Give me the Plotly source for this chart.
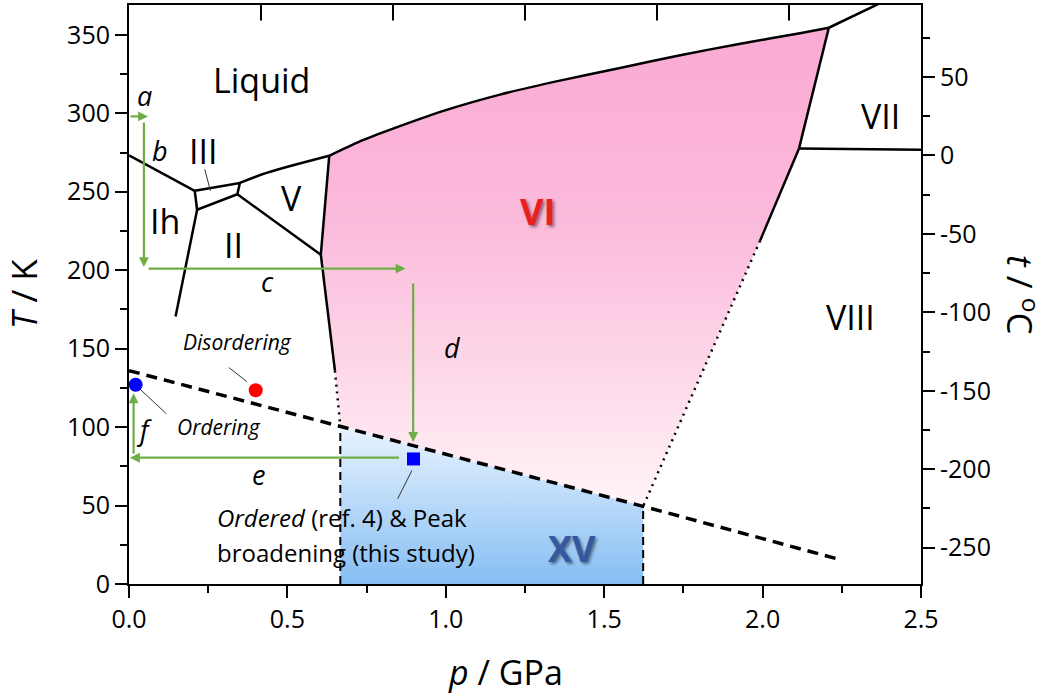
import plotly.graph_objects as go

# ---------------- data (p in GPa, T in K) ----------------
# phase boundaries
ih_liq_p = [0.0, 0.2075];            ih_liq_T = [273.2, 250.6]
iii_box_p = [0.2075, 0.350, 0.342, 0.215, 0.2075]
iii_box_T = [250.6, 255.6, 248.4, 238.5, 250.6]
ih_ii_p = [0.215, 0.147];            ih_ii_T = [238.5, 170.5]
liq_v_p = [0.350, 0.434, 0.632];     liq_v_T = [255.6, 262.0, 272.9]
ii_v_p = [0.342, 0.6055];            ii_v_T = [248.4, 209.9]
v_vi_p = [0.632, 0.6055];            v_vi_T = [272.9, 209.9]
ii_vi_p = [0.6055, 0.650];           ii_vi_T = [209.9, 136.0]
ii_vi_dot_p = [0.650, 0.667];        ii_vi_dot_T = [136.0, 100.3]
vi_liq_p = [0.632, 0.74, 0.855, 1.0, 1.171, 1.36, 1.55, 1.74, 1.93, 2.118, 2.209]
vi_liq_T = [272.9, 283.0, 291.8, 302.0, 311.9, 320.8, 328.9, 337.0, 344.3, 351.0, 354.5]
vii_liq_p = [2.209, 2.40];           vii_liq_T = [354.5, 373.0]
vi_vii_p = [2.209, 2.115];           vi_vii_T = [354.5, 277.6]
vii_viii_p = [2.115, 2.5];           vii_viii_T = [277.6, 276.8]
vi_viii_p = [2.115, 1.992];          vi_viii_T = [277.6, 218.8]
vi_viii_dot_p = [1.992, 1.623];      vi_viii_dot_T = [218.8, 49.5]
# ordering (dashed) line
order_p = [0.0, 0.667, 1.623, 2.24]
order_T = [136.0, 100.3, 49.5, 15.8]
# ice XV region
xv_p = [0.667, 0.667, 1.623, 1.623]
xv_T = [0.0, 100.3, 49.5, 0.0]
# ice VI region outline
vi_p = vi_liq_p + [2.115, 1.992, 1.623, 0.667, 0.650, 0.6055, 0.632]
vi_T = vi_liq_T + [277.6, 218.8, 49.5, 100.3, 136.0, 209.9, 272.9]

# measured points
blue_circle_p = [0.021];  blue_circle_T = [127.0]
red_circle_p = [0.400];   red_circle_T = [123.5]
blue_square_p = [0.898];  blue_square_T = [79.7]

# path arrows a-f: start -> end
arrow_names = ["a", "b", "c", "d", "e", "f"]
arrow_p0 = [0.0, 0.047, 0.057, 0.897, 0.857, 0.0145]
arrow_T0 = [298.0, 295.0, 201.0, 192.5, 80.5, 82.0]
arrow_p1 = [0.060, 0.047, 0.873, 0.897, 0.003, 0.0145]
arrow_T1 = [298.0, 202.0, 201.0, 90.5, 80.5, 121.5]
letter_p = [0.050, 0.097, 0.436, 1.021, 0.408, 0.047]
letter_T = [311.5, 276.5, 192.5, 150.5, 70.0, 98.5]

# phase labels
phase_names = ["Liquid", "III", "Ih", "II", "V", "VII", "VIII"]
phase_p = [0.418, 0.234, 0.113, 0.3295, 0.513, 2.371, 2.276]
phase_T = [321.0, 275.8, 231.3, 216.0, 246.2, 298.0, 170.0]
vi_label = ("VI", 1.291, 237.3)
xv_label = ("XV", 1.398, 22.8)
note_lines = ["<i>Ordered</i> (ref. 4) & Peak", "broadening (this study)"]
note_p = 0.2715
note_T = [42.4, 20.3]

# pointer lines (label leaders)
ptr_iii = ([0.239, 0.257], [264.3, 250.6])
ptr_dis = ([0.315, 0.372], [138.0, 129.0])
ptr_ord = ([0.033, 0.118], [124.5, 108.5])
ptr_odd = ([0.893, 0.848], [72.3, 54.3])

# axes
x_ticks = [0.0, 0.5, 1.0, 1.5, 2.0, 2.5]
x_ticktext = ["0.0", "0.5", "1.0", "1.5", "2.0", "2.5"]
top_ticks = [i * 2.5 / 6 for i in range(1, 6)]
y_ticks = [0, 50, 100, 150, 200, 250, 300, 350]
c_ticks = [-250, -200, -150, -100, -50, 0, 50]
c_ticktext = ["-250", "-200", "-150", "-100", "-50", "0", "50"]
T_MAX = 369.0
KELVIN = 273.15

# ---------------- figure ----------------
FONT = "Open Sans"
fig = go.Figure()

# VI region fill
fig.add_trace(go.Scatter(
    x=vi_p, y=vi_T, mode="lines", fill="toself", line=dict(width=0),
    fillgradient=dict(type="vertical", colorscale=[
        [0.0, "#FFF4F8"], [0.3, "#FDD6E8"], [0.6, "#FBBADB"], [1.0, "#FAAAD3"]]),
    hoverinfo="skip", showlegend=False))
# XV region fill
fig.add_trace(go.Scatter(
    x=xv_p, y=xv_T, mode="lines", fill="toself", line=dict(width=0),
    fillgradient=dict(type="vertical", colorscale=[
        [0.0, "#86BEF3"], [1.0, "#E8F3FE"]]),
    hoverinfo="skip", showlegend=False))

solid = [(ih_liq_p, ih_liq_T), (iii_box_p, iii_box_T), (ih_ii_p, ih_ii_T),
         (ii_v_p, ii_v_T), (v_vi_p, v_vi_T),
         (ii_vi_p, ii_vi_T), (vii_liq_p, vii_liq_T),
         (vi_vii_p, vi_vii_T), (vii_viii_p, vii_viii_T), (vi_viii_p, vi_viii_T)]
for px, ty in solid:
    fig.add_trace(go.Scatter(x=px, y=ty, mode="lines",
                             line=dict(color="black", width=2.5),
                             hoverinfo="skip", showlegend=False))
for px, ty in [(vi_liq_p, vi_liq_T), (liq_v_p, liq_v_T)]:
    fig.add_trace(go.Scatter(x=px, y=ty, mode="lines",
                             line=dict(color="black", width=2.5, shape="spline",
                                       smoothing=0.8),
                             hoverinfo="skip", showlegend=False))
for px, ty in [(ii_vi_dot_p, ii_vi_dot_T), (vi_viii_dot_p, vi_viii_dot_T)]:
    fig.add_trace(go.Scatter(x=px, y=ty, mode="lines",
                             line=dict(color="black", width=2.5, dash="2px,5px"),
                             hoverinfo="skip", showlegend=False))
# XV vertical dashed borders
for i in (0, 3):
    j = 1 if i == 0 else 2
    fig.add_trace(go.Scatter(x=[xv_p[i], xv_p[j]], y=[xv_T[i], xv_T[j]], mode="lines",
                             line=dict(color="black", width=2, dash="8px,5px"),
                             hoverinfo="skip", showlegend=False))
# ordering line
fig.add_trace(go.Scatter(x=order_p, y=order_T, mode="lines",
                         line=dict(color="black", width=3.5, dash="11px,7px"),
                         hoverinfo="skip", showlegend=False))
# pointer lines
for px, ty in [ptr_iii, ptr_dis, ptr_ord, ptr_odd]:
    fig.add_trace(go.Scatter(x=px, y=ty, mode="lines",
                             line=dict(color="#333333", width=1),
                             hoverinfo="skip", showlegend=False))
# markers
fig.add_trace(go.Scatter(x=blue_circle_p, y=blue_circle_T, mode="markers",
                         marker=dict(color="#0000FF", size=14, symbol="circle"),
                         cliponaxis=False, showlegend=False))
fig.add_trace(go.Scatter(x=red_circle_p, y=red_circle_T, mode="markers",
                         marker=dict(color="#FF0000", size=14, symbol="circle"),
                         showlegend=False))
fig.add_trace(go.Scatter(x=blue_square_p, y=blue_square_T, mode="markers",
                         marker=dict(color="#0000FF", size=13, symbol="square"),
                         showlegend=False))
# top-frame inward tick marks (clipped half of a vertical line marker)
fig.add_trace(go.Scatter(x=top_ticks, y=[T_MAX] * len(top_ticks), mode="markers",
                         marker=dict(symbol="line-ns", size=22,
                                     line=dict(color="black", width=2)),
                         cliponaxis=True, hoverinfo="skip", showlegend=False))
# invisible trace to activate the secondary y axis
fig.add_trace(go.Scatter(x=[1.0], y=[0.0], xaxis="x", yaxis="y2", mode="markers",
                         marker=dict(opacity=0), hoverinfo="skip", showlegend=False))

ann = []
GREEN = "#70AD47"
for k in range(len(arrow_names)):
    ann.append(dict(x=arrow_p1[k], y=arrow_T1[k], ax=arrow_p0[k], ay=arrow_T0[k],
                    xref="x", yref="y", axref="x", ayref="y", text="",
                    showarrow=True, arrowhead=2, arrowsize=0.9, arrowwidth=2.2,
                    arrowcolor=GREEN, standoff=0, startstandoff=0))
    ann.append(dict(x=letter_p[k], y=letter_T[k], xref="x", yref="y",
                    text="<i>%s</i>" % arrow_names[k], showarrow=False,
                    font=dict(family=FONT, size=27, color="black")))
for name, px, ty in zip(phase_names, phase_p, phase_T):
    ann.append(dict(x=px, y=ty, xref="x", yref="y", text=name, showarrow=False,
                    font=dict(family=FONT, size=34, color="black")))
ann.append(dict(x=vi_label[1], y=vi_label[2], xref="x", yref="y",
                text="<b>%s</b>" % vi_label[0], showarrow=False,
                font=dict(family=FONT, size=36, color="#E8201E",
                          shadow="2px 2px 3px rgba(0,0,0,0.45)")))
ann.append(dict(x=xv_label[1], y=xv_label[2], xref="x", yref="y",
                text="<b>%s</b>" % xv_label[0], showarrow=False,
                font=dict(family=FONT, size=36, color="#3559A0",
                          shadow="2px 2px 3px rgba(0,0,0,0.45)")))
ann.append(dict(x=0.343, y=154.5, xref="x", yref="y", text="<i>Disordering</i>",
                showarrow=False, font=dict(family=FONT, size=21, color="black")))
ann.append(dict(x=0.284, y=100.0, xref="x", yref="y", text="<i>Ordering</i>",
                showarrow=False, font=dict(family=FONT, size=21, color="black")))
for line, ty in zip(note_lines, note_T):
    ann.append(dict(x=note_p, y=ty, xref="x", yref="y", xanchor="left",
                    text=line, showarrow=False,
                    font=dict(family=FONT, size=24, color="black")))
# axis titles
ann.append(dict(x=-0.133, y=0.5, xref="paper", yref="paper", text="<i>T</i> / K",
                xanchor="center", yanchor="middle",
                textangle=-90, showarrow=False,
                font=dict(family=FONT, size=35, color="black")))
ann.append(dict(x=0.476, y=-0.152, xref="paper", yref="paper", text="<i>p</i> / GPa",
                xanchor="center", yanchor="middle",
                showarrow=False, font=dict(family=FONT, size=34, color="black")))
ann.append(dict(x=1.128, y=0.5, xref="paper", yref="paper",
                xanchor="center", yanchor="middle",
                text="<i>t</i> / <sup>o</sup>C", textangle=90, showarrow=False,
                font=dict(family=FONT, size=35, color="black")))

axis_common = dict(showgrid=False, zeroline=False, showline=True, linecolor="black",
                   linewidth=2, tickcolor="black", tickwidth=2,
                   tickfont=dict(family=FONT, size=25, color="black"))

fig.update_layout(
    width=1050, height=696,
    margin=dict(l=129, r=129, t=3, b=112),
    paper_bgcolor="white", plot_bgcolor="white",
    showlegend=False,
    annotations=ann,
    xaxis=dict(range=[0, 2.5], tickvals=x_ticks, ticktext=x_ticktext,
               ticks="outside", ticklen=12, mirror=True,
               minor=dict(dtick=0.25, tick0=0, ticks="outside", ticklen=7,
                          tickwidth=2, tickcolor="black"),
               **axis_common),
    yaxis=dict(range=[0, T_MAX], tickvals=y_ticks, ticks="outside", ticklen=12,
               minor=dict(dtick=25, tick0=0, ticks="outside", ticklen=7,
                          tickwidth=2, tickcolor="black"),
               **axis_common),
    yaxis2=dict(range=[-KELVIN, T_MAX - KELVIN], overlaying="y", side="right",
                anchor="x", tickvals=c_ticks, ticktext=c_ticktext,
                ticks="outside", ticklen=12,
                minor=dict(dtick=25, tick0=0, ticks="outside", ticklen=7,
                           tickwidth=2, tickcolor="black"),
                **axis_common),
)

fig.write_html("out.html", config={"displayModeBar": False},
               post_script="document.body.style.margin='0px';document.body.style.overflow='hidden';")
